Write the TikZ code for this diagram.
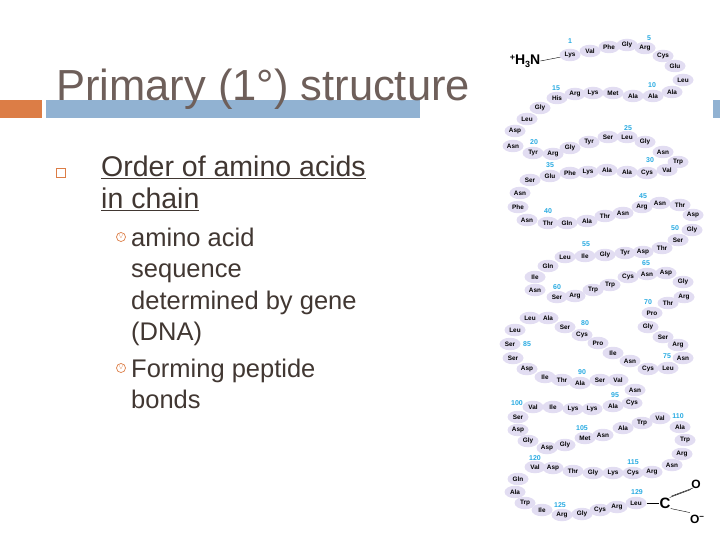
\documentclass[tikz,border=0pt]{standalone}
\usepackage{fontspec}
\setmainfont{Liberation Sans}
\usetikzlibrary{shapes.geometric}
\definecolor{titlec}{RGB}{110,95,90}
\definecolor{bodyc}{RGB}{65,55,50}
\definecolor{orangec}{RGB}{220,125,70}
\definecolor{bluec}{RGB}{145,178,210}
\definecolor{beadc}{RGB}{226,221,242}
\definecolor{numc}{RGB}{40,170,225}
\tikzset{
 bead/.style={ellipse,fill=beadc,minimum width=21pt,minimum height=12.5pt,inner sep=0pt,font=\fontsize{6.4}{7}\selectfont\bfseries,text=black},
 num/.style={font=\fontsize{7}{7}\selectfont\bfseries,text=numc,inner sep=0pt},
 body/.style={anchor=base west,text=bodyc,inner sep=0pt},
}
\begin{document}
\begin{tikzpicture}[x=1pt,y=-1pt]
\useasboundingbox (0,0) rectangle (720,540);
\fill[orangec] (0,100) rectangle (42,118);
\fill[bluec] (46,100) rectangle (420,118);
\fill[bluec] (713,100) rectangle (720,118);
\node[anchor=base west,text=titlec,font=\fontsize{43.5}{43.5}\selectfont,inner sep=0pt] (title) at (56,101) {Primary (1°) structure};
\node[draw=orangec,line width=0.9pt,minimum size=9pt,inner sep=0pt] (sq) at (61,173) {};
\node[body,font=\fontsize{28.5}{28.5}\selectfont] (l1) at (101,177) {\underline{Order of amino acids}};
\node[body,font=\fontsize{28.5}{28.5}\selectfont] (l2) at (101,209) {\underline{in chain}};
\foreach \n/\yy in {m1/237,m2/368}{
 \node[circle,draw=orangec,line width=0.7pt,minimum size=9pt,inner sep=0pt] (\n) at (121,\yy) {};
 \node[text=orangec,font=\fontsize{7}{7}\selectfont\bfseries,inner sep=0pt] (\n c) at (121,\yy) {$\vee$};
}
\foreach \n/\t/\yy in {s1/{amino acid}/246,s2/sequence/277,s3/{determined by gene}/309,s4/(DNA)/340,s5/{Forming peptide}/377,s6/bonds/408}
 \node[body,font=\fontsize{25.5}{25.5}\selectfont] (\n) at (131,\yy) {\t};
% chain
\node[font=\fontsize{14}{14}\selectfont\bfseries,inner sep=0pt] (h3n) at (525,61) {\raisebox{4pt}{\fontsize{9}{9}\selectfont +}H\raisebox{-3pt}{\fontsize{9}{9}\selectfont 3}N};
\coordinate (lysL) at (561,57);
\draw (h3n.east) -- (lysL);
\foreach \t/\x/\y [count=\i] in {
Lys/570/55,Val/590/51,Phe/609/47,Gly/627/45,Arg/645/48,Cys/663/56,Glu/675/66,Leu/683/80,Ala/672/92,Ala/653/96,
Ala/633/96,Met/613/93,Lys/593/93,Arg/575/94,His/557/98,Gly/540/108,Leu/527/119,Asp/515/131,Asn/513/146,Tyr/533/153,
Arg/553/154,Gly/570/148,Tyr/589/142,Ser/608/137,Leu/627/137,Gly/645/142,Asn/663/152,Trp/678/162,Val/667/170,Cys/647/173,
Ala/627/172,Ala/607/170,Lys/588/172,Phe/570/173,Glu/550/176,Ser/530/180,Asn/520/193,Phe/518/207,Asn/527/220,Thr/548/223,
Gln/567/223,Ala/587/221,Thr/605/216,Asn/623/213,Arg/642/207,Asn/660/203,Thr/680/205,Asp/693/215,Gly/692/230,Ser/678/240,
Thr/662/248,Asp/643/252,Tyr/625/253,Gly/605/255,Ile/585/256,Leu/565/257,Gln/548/266,Ile/535/277,Asn/535/290,Ser/557/297,
Arg/575/296,Trp/593/290,Trp/610/285,Cys/628/277,Asn/647/274,Asp/666/273,Gly/683/282,Arg/684/297,Thr/668/303,Pro/652/313,
Gly/648/327,Ser/663/337,Arg/678/345,Asn/683/358,Leu/668/368,Cys/648/369,Asn/630/361,Ile/613/353,Pro/598/343,Cys/582/335,
Ser/565/327,Ala/548/318,Leu/530/318,Leu/515/330,Ser/510/344,Ser/513/358,Asp/527/369,Ile/545/377,Thr/562/380,Ala/580/383,
Ser/600/380,Val/618/380,Asn/635/390,Cys/632/403,Ala/613/406,Lys/592/409,Lys/573/409,Ile/553/407,Val/533/407,Ser/518/417,
Asp/518/430,Gly/528/441,Asp/547/448,Gly/565/445,Met/585/438,Asn/603/435,Ala/623/428,Trp/642/423,Val/660/418,Ala/680/427,
Trp/685/440,Arg/682/454,Asn/672/465,Arg/652/472,Cys/633/473,Lys/613/473,Gly/593/473,Thr/573/471,Asp/553/468,Val/535/467,
Gln/518/479,Ala/515/492,Trp/525/503,Ile/542/510,Arg/562/515,Gly/582/514,Cys/600/510,Arg/617/507,Leu/636/503}
 \node[bead] (b\i) at (\x,\y) {\t};
\foreach \t/\x/\y [count=\i] in {1/570/41,5/649/38,10/652/85,15/556/88,20/534/142,25/628/128,30/650/160,35/550/165,40/548/211,45/643/196,
50/675/228,55/586/244,60/557/287,65/646/263,70/648/302,75/667/356,80/585/323,85/527/344,90/582/372,95/615/395,100/517/403,105/582/428,110/678/416,115/633/462,120/535/458,125/560/505,129/637/492}
 \node[num] (n\i) at (\x,\y) {\t};
\node[font=\fontsize{15}{15}\selectfont\bfseries,inner sep=0pt] (cc) at (665,503) {C};
\node[font=\fontsize{12}{12}\selectfont\bfseries,inner sep=0pt] (o1) at (696,484) {O};
\node[font=\fontsize{12}{12}\selectfont\bfseries,inner sep=0pt] (o2) at (697,519) {O\raisebox{4pt}{\fontsize{8}{8}\selectfont −}};
\draw (b129.east) -- (cc.west);
\draw ([xshift=-1pt]cc.north east) -- ([yshift=-1pt]o1.south west);
\draw ([xshift=1pt,yshift=1.5pt]cc.north east) -- ([xshift=2pt,yshift=0.5pt]o1.south west);
\draw (cc.south east) -- ([yshift=2pt]o2.north west);
\end{tikzpicture}
\end{document}
